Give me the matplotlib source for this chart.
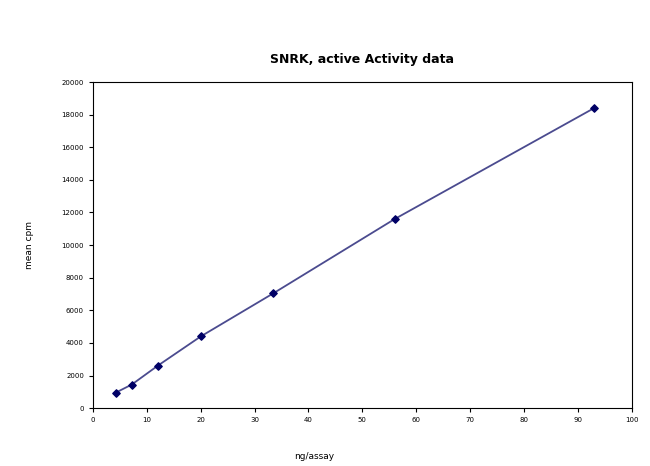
import matplotlib.pyplot as plt

# values
ng_assay = [4.2, 7.2, 12.0, 20.0, 33.5, 56.0, 93.0]
mean_cpm = [950, 1450, 2600, 4400, 7050, 11600, 18400]

x_ticks = list(range(0, 101, 10))
y_ticks = list(range(0, 20001, 2000))

fig = plt.figure(figsize=(6.5, 4.66), dpi=100)
ax = fig.add_axes([0.143, 0.124, 0.829, 0.70])

ax.plot(ng_assay, mean_cpm, color="#4b4b8f", linewidth=1.3)
ax.scatter(ng_assay, mean_cpm, marker="D", s=14, color="#000066", zorder=3)

ax.set_xlim(0, 100)
ax.set_ylim(0, 20000)
ax.set_xticks(x_ticks)
ax.set_yticks(y_ticks)
ax.tick_params(labelsize=5, length=3, direction="out")
for s in ax.spines.values():
    s.set_linewidth(0.8)

ax.set_title("SNRK, active Activity data", fontsize=9, fontweight="bold", pad=14)
ax.set_xlabel("ng/assay", fontsize=6.5)
ax.xaxis.set_label_coords(0.41, -0.135)
ax.set_ylabel("mean cpm", fontsize=6.5, labelpad=20)

fig.savefig("out.png", dpi=100)
